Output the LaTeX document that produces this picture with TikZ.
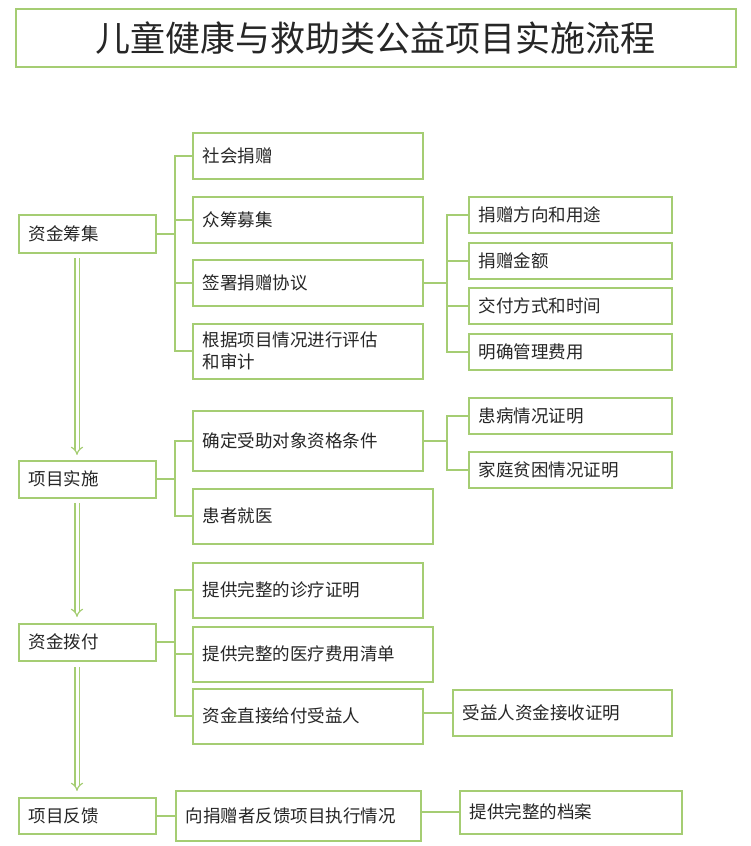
\documentclass[tikz,border=0pt]{standalone}
\usepackage{fontspec}
\newfontfamily\cjk{Noto Sans CJK SC}
\usetikzlibrary{arrows}
\definecolor{gb}{RGB}{165,205,115}
\tikzset{bx/.style={draw=gb,line width=1.5pt,fill=white,inner xsep=10pt,inner ysep=0pt,anchor=north west,align=left,font=\cjk\fontsize{17.5}{22}\selectfont,text=black!85},
ln/.style={draw=gb,line width=2pt},
dn/.style={draw=gb,double=white,line width=1.2pt,double distance=3pt,-implies}}
\newcommand\bx[6]{\node[bx,text width=#4pt-20pt,minimum height=#5pt] (#1) at (#2pt,-#3pt) {#6};}
\begin{document}
\begin{tikzpicture}[x=1pt,y=1pt]
\useasboundingbox (0,0) rectangle (750,-846);
\node[bx,minimum width=720pt,minimum height=58pt,align=center,inner xsep=0pt,font=\cjk\fontsize{35}{40}\selectfont] (title) at (15,-8) {儿童健康与救助类公益项目实施流程};
\bx{a}{18}{214}{137}{38}{资金筹集}
\bx{b}{18}{460}{137}{37}{项目实施}
\bx{c}{18}{623}{137}{37}{资金拨付}
\bx{d}{18}{797}{137}{36}{项目反馈}
\bx{a1}{192}{132}{230}{46}{社会捐赠}
\bx{a2}{192}{196}{230}{46}{众筹募集}
\bx{a3}{192}{259}{230}{46}{签署捐赠协议}
\bx{a4}{192}{323}{230}{55}{根据项目情况进行评估\\和审计}
\bx{b1}{192}{410}{230}{60}{确定受助对象资格条件}
\bx{b2}{192}{488}{240}{55}{患者就医}
\bx{c1}{192}{562}{230}{55}{提供完整的诊疗证明}
\bx{c2}{192}{626}{240}{55}{提供完整的医疗费用清单}
\bx{c3}{192}{688}{230}{55}{资金直接给付受益人}
\bx{d1}{175}{790}{245}{50}{向捐赠者反馈项目执行情况}
\bx{e1}{468}{196}{203}{36}{捐赠方向和用途}
\bx{e2}{468}{242}{203}{36}{捐赠金额}
\bx{e3}{468}{287}{203}{36}{交付方式和时间}
\bx{e4}{468}{333}{203}{36}{明确管理费用}
\bx{f1}{468}{397}{203}{36}{患病情况证明}
\bx{f2}{468}{451}{203}{36}{家庭贫困情况证明}
\bx{g1}{452}{689}{219}{46}{受益人资金接收证明}
\bx{h1}{459}{790}{222}{43}{提供完整的档案}
% brackets col1->col2
\draw[ln] (a.east) -- (175,0|-a.east);
\draw[ln] (a1.west) -| (175,0|-a4.west) -- (a4.west);
\draw[ln] (a2.west) -- (175,0|-a2.west) (a3.west) -- (175,0|-a3.west);
\draw[ln] (b.east) -- (175,0|-b.east);
\draw[ln] (b1.west) -| (175,0|-b2.west) -- (b2.west);
\draw[ln] (c.east) -- (175,0|-c.east);
\draw[ln] (c1.west) -| (175,0|-c3.west) -- (c3.west);
\draw[ln] (c2.west) -- (175,0|-c2.west);
\draw[ln] (d.east) -- (d1.west|-d.east);
% col2->col3
\draw[ln] (a3.east) -- (447,0|-a3.east);
\draw[ln] (e1.west) -| (447,0|-e4.west) -- (e4.west);
\draw[ln] (e2.west) -- (447,0|-e2.west) (e3.west) -- (447,0|-e3.west);
\draw[ln] (b1.east) -- (447,0|-b1.east);
\draw[ln] (f1.west) -| (447,0|-f2.west) -- (f2.west);
\draw[ln] (c3.east|-g1.west) -- (g1.west);
\draw[ln] (d1.east|-h1.west) -- (h1.west);
% down arrows
\draw[dn] (77,-258) -- (77,-455);
\draw[dn] (77,-503) -- (77,-617);
\draw[dn] (77,-667) -- (77,-791);
\end{tikzpicture}
\end{document}
